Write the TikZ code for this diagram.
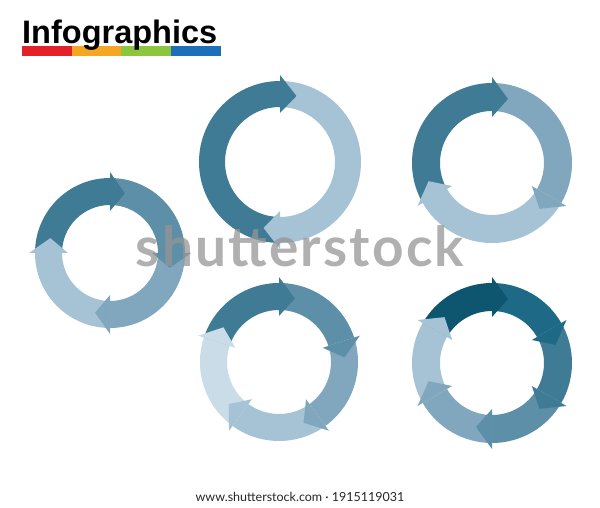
\documentclass[tikz,border=0pt]{standalone}
\usepackage{fontspec}
\setmainfont{Liberation Sans}
\newfontfamily\capfont{Lato}

\definecolor{barred}{HTML}{E32128}
\definecolor{barorange}{HTML}{F5A623}
\definecolor{bargreen}{HTML}{8CC63F}
\definecolor{barblue}{HTML}{1E6FBA}
\definecolor{tealA}{HTML}{0E5570}
\definecolor{tealB}{HTML}{1E6A86}
\definecolor{tealC}{HTML}{3F7B95}
\definecolor{tealD}{HTML}{5E8FA8}
\definecolor{tealE}{HTML}{80A7BE}
\definecolor{tealF}{HTML}{A6C3D5}
\definecolor{tealG}{HTML}{C9DCE7}
\definecolor{wmgray}{HTML}{959595}

% ring segment: R, r, from, to, colour
\newcommand{\ringbody}[5]{\fill[#5] (#3:#1) arc[start angle=#3, end angle=#4, radius=#1] -- (#4:#2) arc[start angle=#4, end angle=#3, radius=#2] -- cycle;}
% arrow head at the end of a segment: R, r, angle, colour
\newcommand{\ringhead}[4]{\fill[#4] ({#3}:{#1+6}) -- ({#3-14}:{(#1+#2)/2}) -- ({#3}:{#2-6}) -- cycle;}

\begin{document}
\begin{tikzpicture}[x=1pt, y=1pt]
  \useasboundingbox (0,0) rectangle (600,508);

  % title
  \fill[barred] (22,452) rectangle (72,462);
  \fill[barorange] (72,452) rectangle (121,462);
  \fill[bargreen] (121,452) rectangle (171,462);
  \fill[barblue] (171,452) rectangle (221,462);
  \node[anchor=base west, inner sep=0pt, font=\bfseries\fontsize{32.5}{36}\selectfont] (title) at (22,464) {Infographics};

  % two steps
  \begin{scope}[shift={(280,346)}]
    \foreach \angfrom/\angto/\col in {270/90/tealC, 90/-90/tealF}
      {\ringbody{81}{55}{\angfrom}{\angto}{\col}}
    \foreach \angto/\col in {90/tealC, -90/tealF}
      {\ringhead{81}{55}{\angto}{\col}}
  \end{scope}

  % three steps
  \begin{scope}[shift={(492,345)}]
    \foreach \angfrom/\angto/\col in {210/90/tealC, 90/-30/tealE, -30/-150/tealF}
      {\ringbody{80}{52}{\angfrom}{\angto}{\col}}
    \foreach \angto/\col in {90/tealC, -30/tealE, -150/tealF}
      {\ringhead{80}{52}{\angto}{\col}}
  \end{scope}

  % four steps
  \begin{scope}[shift={(110,255)}]
    \foreach \angfrom/\angto/\col in {180/90/tealC, 90/0/tealD, 0/-90/tealE, -90/-180/tealF}
      {\ringbody{75}{48}{\angfrom}{\angto}{\col}}
    \foreach \angto/\col in {90/tealC, 0/tealD, -90/tealE, -180/tealF}
      {\ringhead{75}{48}{\angto}{\col}}
  \end{scope}

  % five steps
  \begin{scope}[shift={(279,146)}]
    \foreach \angfrom/\angto/\col in {162/90/tealC, 90/18/tealD, 18/-54/tealE, -54/-126/tealF, -126/-198/tealG}
      {\ringbody{79}{52}{\angfrom}{\angto}{\col}}
    \foreach \angto/\col in {90/tealC, 18/tealD, -54/tealE, -126/tealF, -198/tealG}
      {\ringhead{79}{52}{\angto}{\col}}
  \end{scope}

  % six steps
  \begin{scope}[shift={(492,145)}]
    \foreach \angfrom/\angto/\col in {150/90/tealA, 90/30/tealB, 30/-30/tealC, -30/-90/tealD, -90/-150/tealE, -150/-210/tealF}
      {\ringbody{80}{52}{\angfrom}{\angto}{\col}}
    \foreach \angto/\col in {90/tealA, 30/tealB, -30/tealC, -90/tealD, -150/tealE, -210/tealF}
      {\ringhead{80}{52}{\angto}{\col}}
  \end{scope}

  \node[anchor=base, inner sep=0pt, font=\capfont\bfseries\fontsize{55}{60}\selectfont\addfontfeatures{LetterSpace=4}, text=wmgray, text opacity=0.75] (watermark) at (300,241) {shutterstock};
  \node[font=\capfont\fontsize{12.5}{14}\selectfont, text=black!85] (caption) at (300,11) {www.shutterstock.com · 1915119031};
\end{tikzpicture}
\end{document}
